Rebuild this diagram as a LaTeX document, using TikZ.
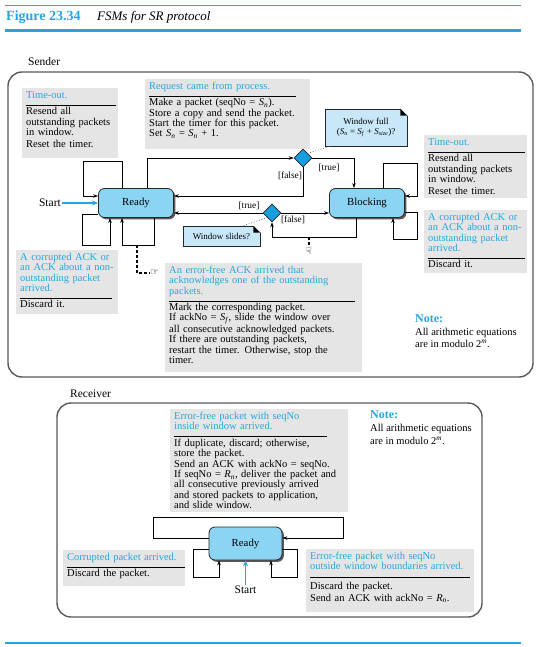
\documentclass[tikz,border=0pt]{standalone}
\usepackage{fontspec}
\setmainfont{Liberation Serif}
\newfontfamily\symfont{DejaVu Sans}
\usetikzlibrary{arrows.meta,shapes.geometric,shadows}
\definecolor{cyanT}{RGB}{38,166,222}
\definecolor{boxgray}{RGB}{229,229,229}
\definecolor{statefill}{RGB}{140,212,244}
\definecolor{diafill}{RGB}{22,158,222}
\definecolor{notefill}{RGB}{200,232,250}
\newcommand{\hd}[1]{{\color{cyanT}#1\strut}}
\newcommand{\hr}[1]{\par\vspace{3pt}\hrule height 0.8pt width #1\relax\vspace{2pt}}
\newcommand{\pad}[1]{\par\vspace{#1}\hrule height 0pt\relax}
\newcommand{\Sn}{\textit{S}\textsubscript{\textit{n}}}
\newcommand{\Sf}{\textit{S}\textsubscript{\textit{f}}}
\newcommand{\Rn}{\textit{R}\textsubscript{\textit{n}}}
\newcommand{\Ssize}{\textit{S}\textsubscript{\textit{size}}}
\newcommand{\dogear}[1]{%
  \fill[white] ([xshift=-7pt]#1.north east) -- ([shift={(-7pt,1pt)}]#1.north east) -- ([shift={(1pt,1pt)}]#1.north east) -- ([shift={(1pt,-7pt)}]#1.north east) -- ([yshift=-7pt]#1.north east) -- cycle;
  \fill[black] ([xshift=-7pt]#1.north east) -- ([shift={(-7pt,-7pt)}]#1.north east) -- ([yshift=-7pt]#1.north east) -- cycle;}
\begin{document}
\begin{tikzpicture}[x=1pt,y=-1pt,
  gbox/.style={fill=boxgray, inner xsep=4pt, inner ysep=3pt, align=left, anchor=north west, font=\fontsize{10.5}{10.4}\selectfont},
  state/.style={draw=black!85, line width=0.8pt, fill=statefill, rounded corners=6pt, minimum width=75pt, minimum height=29pt, font=\fontsize{10.8}{11}\selectfont, drop shadow={shadow xshift=1.8pt, shadow yshift=-1.8pt, fill=black!65, opacity=1}},
  dec/.style={diamond, draw=black!85, line width=0.6pt, fill=diafill, minimum width=18pt, minimum height=18pt, inner sep=0pt},
  arr/.style={draw=black, line width=0.6pt, -{Stealth[length=5pt,width=3.5pt]}},
  lbl/.style={font=\fontsize{9.4}{9.4}\selectfont, inner sep=1pt},
  startarr/.style={draw=cyanT, line width=1.6pt, -{Stealth[length=6pt,width=5pt]}},
  notebox/.style={font=\fontsize{9}{10.5}\selectfont, align=center, inner sep=2pt, draw=black!85, line width=0.6pt, fill=notefill},
  frame/.style={draw=black!65, line width=1.4pt, rounded corners=14pt},
  pnote/.style={anchor=north west, align=left, inner sep=0pt, font=\fontsize{10.5}{10.4}\selectfont},
  ptr/.style={draw=black, line width=1.4pt, dash pattern=on 3pt off 2pt},
  hand/.style={font=\symfont\fontsize{10}{10}\selectfont, inner sep=0pt},
  sec/.style={anchor=base west, inner sep=0pt, font=\fontsize{11.5}{11.5}\selectfont},
]
\useasboundingbox (0,0) rectangle (539,647);
% title
\draw[cyanT, line width=0.7pt] (5,5) -- (521,5);
\node[anchor=base west, inner sep=0pt, font=\bfseries\fontsize{14}{14}\selectfont, text=cyanT] (fig) at (6,21) {Figure 23.34};
\node[anchor=base west, inner sep=0pt, font=\itshape\fontsize{13}{13}\selectfont] (ttl) at (97,21) {FSMs for SR protocol};
\draw[cyanT, line width=3pt] (5,31) -- (521,31);
\draw[cyanT, line width=1.2pt] (5,643) -- (521,643);

% ---------------- Sender ----------------
\node[sec] (sender) at (28,66) {Sender};
\draw[frame] (8,72) rectangle (533,377);

\node[gbox, text width=88pt] (to1) at (22,88) {\hd{Time-out.}\hr{90pt}Resend all\\outstanding packets\\in window.\par\vspace{1.5pt}Reset the timer.\pad{7pt}};
\node[gbox, text width=157pt] (req) at (145,79) {\hd{Request came from process.}\hr{147pt}Make a packet (seqNo = \Sn).\\Store a copy and send the packet.\\Start the timer for this packet.\\Set \Sn{} = \Sn{} + 1.\pad{7pt}};
\node[gbox, text width=95pt] (to2) at (424,135) {\hd{Time-out.}\hr{97pt}Resend all\\outstanding packets\\in window.\par\vspace{1.5pt}Reset the timer.};
\node[gbox, text width=95pt] (ca2) at (424,210) {\hd{A corrupted ACK or\\an ACK about a non-\\outstanding packet\\arrived.}\hr{97pt}Discard it.\pad{2pt}};
\node[gbox, text width=94pt] (ca1) at (16,250) {\hd{A corrupted ACK or\\an ACK about a non-\\outstanding packet\\arrived.}\hr{92pt}Discard it.\pad{3pt}};
\node[gbox, text width=189pt] (ack) at (165,263) {\hd{An error-free ACK arrived that\\acknowledges one of the outstanding\\packets.}\hr{186pt}Mark the corresponding packet.\\If ackNo = \Sf, slide the window over\\all consecutive acknowledged packets.\\If there are outstanding packets,\\restart the timer. Otherwise, stop the\\timer.\pad{5pt}};
\node[pnote] (note1) at (415,314) {{\bfseries\color{cyanT}\fontsize{12}{12}\selectfont Note:}\\[3pt]All arithmetic equations\\[2pt]are in modulo 2\textsuperscript{\itshape m}.};

\node[state] (ready) at (136,203) {Ready};
\node[state] (block) at (367,203) {Blocking};
\node[dec] (d1) at (303,158) {};
\node[dec] (d2) at (272,213) {};
\node[anchor=east, inner sep=1pt, font=\fontsize{11.5}{11.5}\selectfont] (sstart) at (62,203) {Start};
\draw[startarr] (sstart.east) -- (ready.west);

\node[notebox, minimum width=82pt, minimum height=37pt] (wf) at (366,127.5) {Window full\\(\Sn{} = \Sf{} + \Ssize)?};
\dogear{wf}
\node[notebox, minimum width=77pt, minimum height=20pt] (ws) at (221.5,236) {Window slides?};
\dogear{ws}
\draw[dotted, line width=0.7pt, black!70] (d1.north east) -- ([xshift=5pt]wf.south west);
\draw[dotted, line width=0.7pt, black!70] (d2.south west) -- ([xshift=-17pt]ws.north east);

% sender connectors
\draw[arr] ([xshift=11pt]ready.north) |- (d1.west);
\draw[arr] (d1.east) -| ([xshift=-13pt]block.north);
\draw[arr] (d1.south) |- ([yshift=7pt]ready.east);
\draw[arr] ([xshift=-11pt]block.south) |- (272,237) -- (d2.south);
\draw[arr] (d2.west) -- (ready.east |- d2.west);
\draw[arr] (d2.east) -- (block.west |- d2.east);
\draw[arr] ([xshift=-14pt]ready.north) |- (83,161) |- ([yshift=7pt]ready.west);
\draw[arr] ([yshift=-11pt]ready.west) -| (82,245) -| ([xshift=-26pt]ready.south);
\draw[arr] ([xshift=18pt]ready.south) |- (122,245) -- ([xshift=-14pt]ready.south);
\draw[arr] ([xshift=16pt]block.north) |- (417,163) |- ([yshift=7pt]block.east);
\draw[arr] ([yshift=-9pt]block.east) -| (417,239) -| ([xshift=26pt]block.south);
\node[lbl] (t1) at (329,168) {[true]};
\node[lbl] (f1) at (290,176) {[false]};
\node[lbl] (t2) at (249,206) {[true]};
\node[lbl] (f2) at (293,220) {[false]};

\coordinate (ackm) at (137,245);
\node[hand, anchor=west] (h1) at (150,273) {☞};
\draw[ptr] (ackm) |- (h1.west);
\coordinate (blkm) at (309,237);
\node[hand, anchor=north] (h2) at (309,247) {☟};
\draw[ptr] (blkm) -- (h2.north);

% ---------------- Receiver ----------------
\node[sec] (receiver) at (70,397) {Receiver};
\draw[frame] (57,403) rectangle (482,617);
\node[gbox, text width=170pt] (rin) at (170,409) {\hd{Error-free packet with seqNo\\inside window arrived.}\hr{153pt}If duplicate, discard; otherwise,\\store the packet.\\Send an ACK with ackNo = seqNo.\\If seqNo = \Rn, deliver the packet and\\all consecutive previously arrived\\and stored packets to application,\\and slide window.};
\node[pnote] (note2) at (370,410) {{\bfseries\color{cyanT}\fontsize{12}{12}\selectfont Note:}\\[3pt]All arithmetic equations\\[3pt]are in modulo 2\textsuperscript{\itshape m}.};
\node[gbox, text width=114pt] (rcor) at (63,550) {\hd{Corrupted packet arrived.}\hr{118pt}Discard the packet.\pad{4pt}};
\node[gbox, text width=160pt] (rout) at (306,549) {\hd{Error-free packet with seqNo\\outside window boundaries arrived.}\par\vspace{4pt}\hrule height 0.8pt width 160pt\relax\vspace{4pt}Discard the packet.\\[1.5pt]Send an ACK with ackNo = \Rn.\pad{6pt}};

\node[state, minimum width=73pt, minimum height=33pt] (rready) at (245.5,543.5) {Ready};
\node[anchor=north, inner sep=1pt, font=\fontsize{11.5}{11.5}\selectfont] (rstart) at (245.5,585) {Start};
\draw[startarr] (rstart.north) -- (rready.south);
\draw[arr] ([yshift=5.5pt]rready.west) -| (153,517) -| (343,538) -- ([yshift=5.5pt]rready.east);
\draw[arr] ([yshift=-5.5pt]rready.west) -| (193,577) -| ([xshift=-26.5pt]rready.south);
\draw[arr] ([yshift=-5.5pt]rready.east) -| (297,577) -| ([xshift=25.5pt]rready.south);
\end{tikzpicture}
\end{document}
